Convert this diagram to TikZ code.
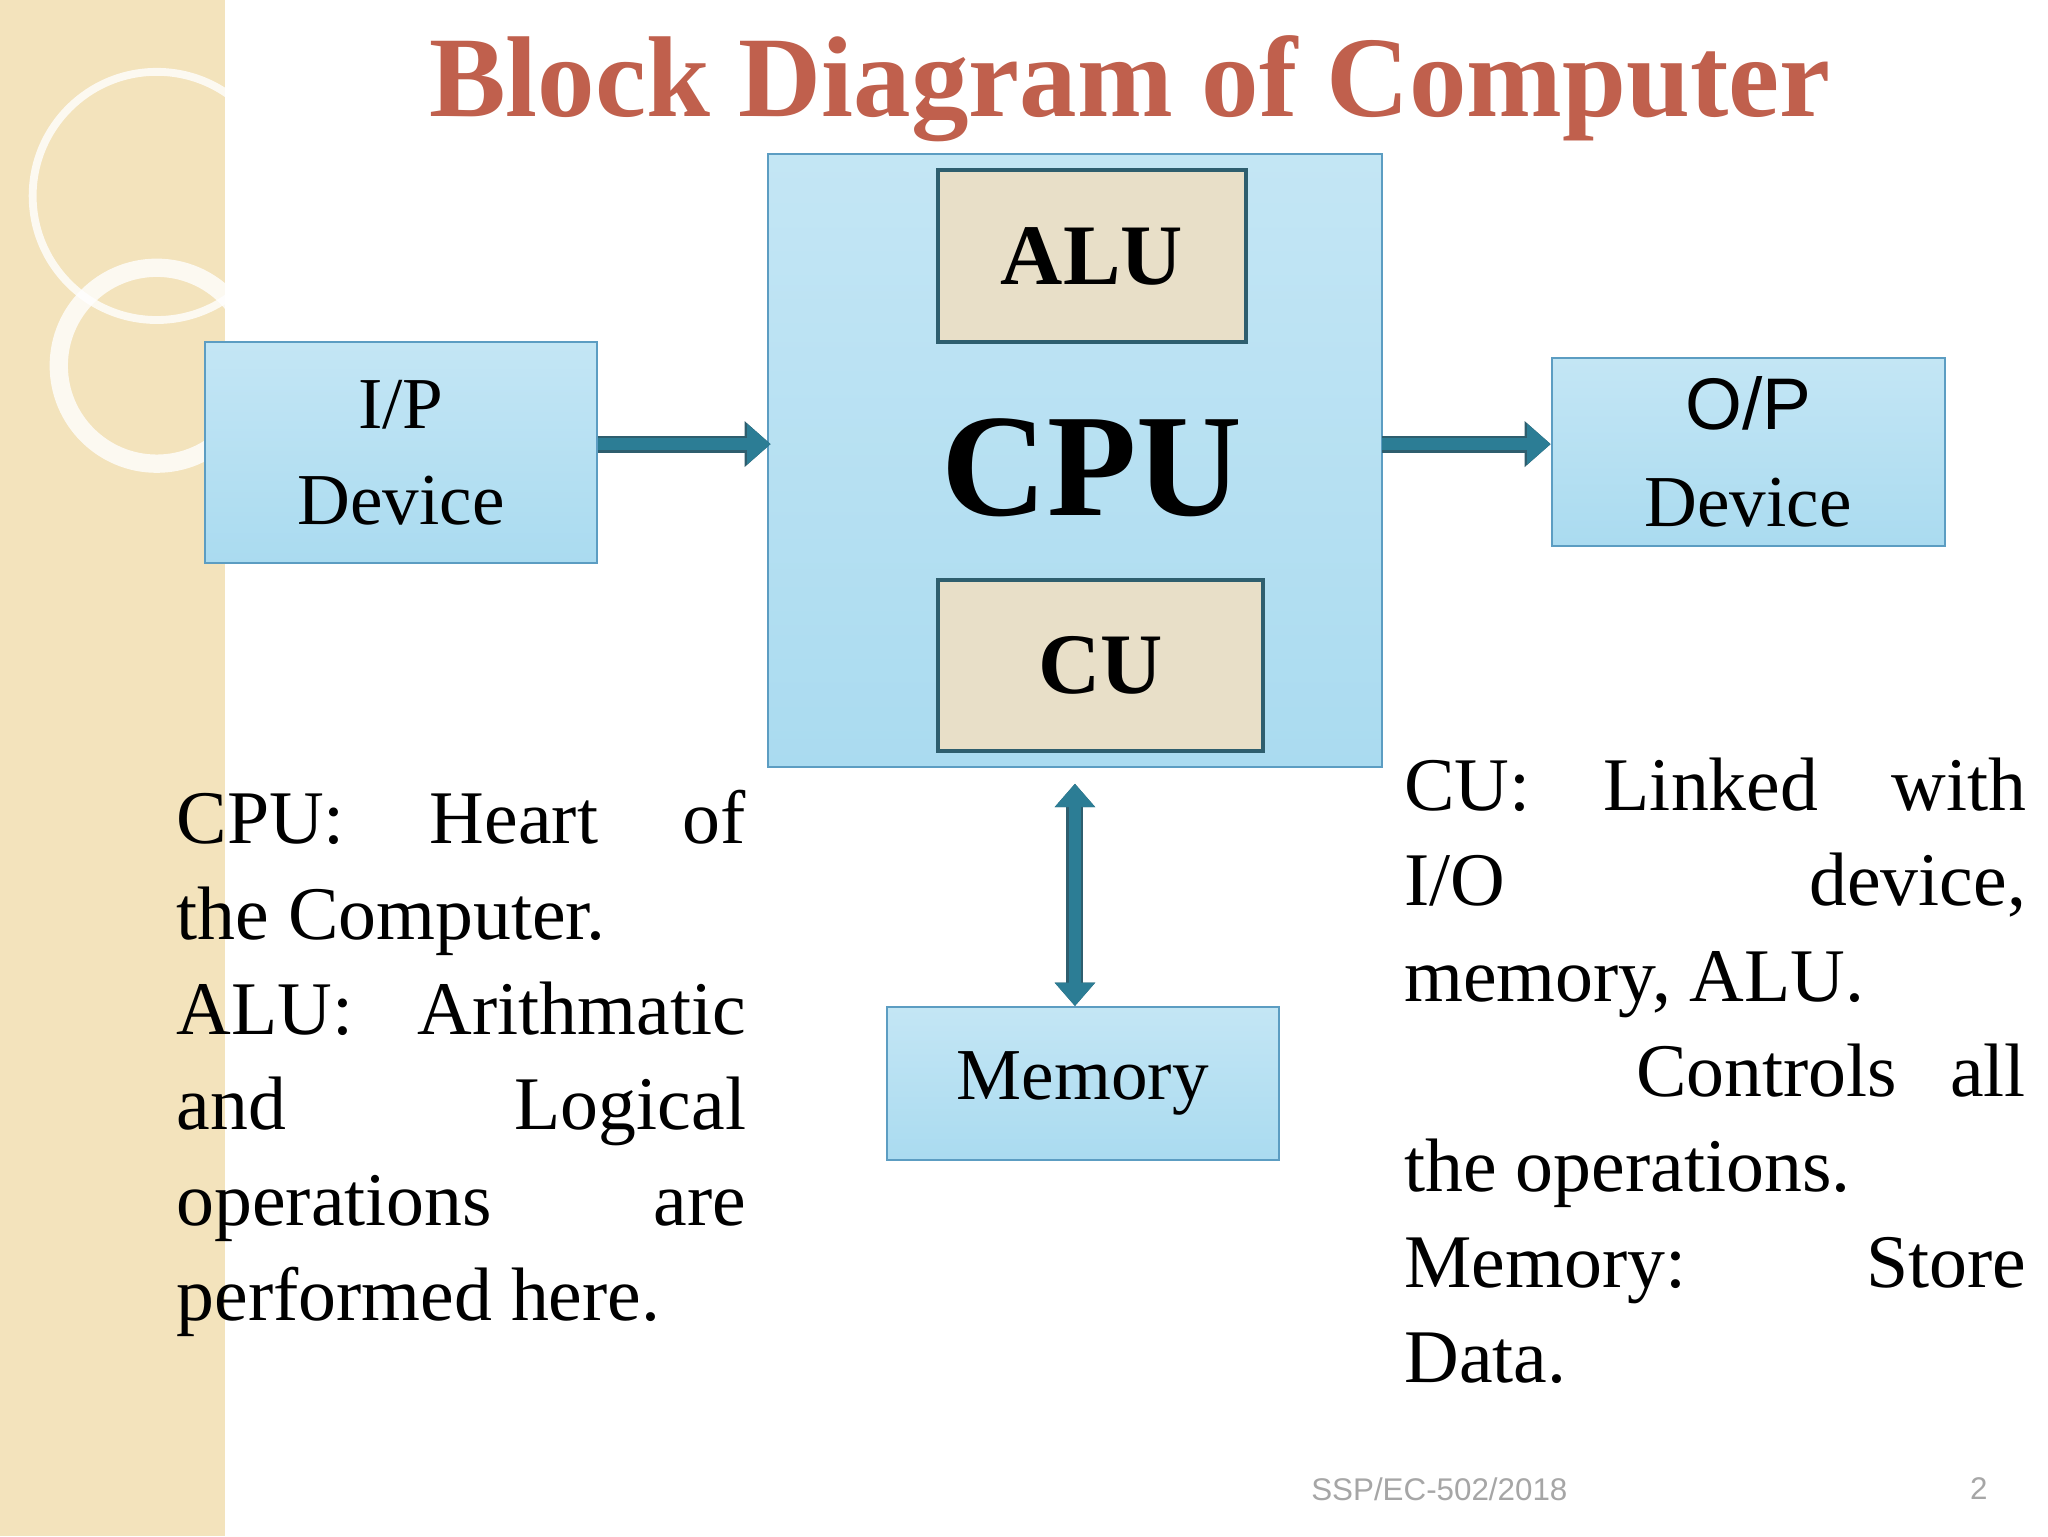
\documentclass[tikz,border=0pt]{standalone}
\usepackage{fontspec}
\setmainfont{Liberation Serif}
\newfontfamily\sans{Liberation Sans}
\usetikzlibrary{arrows.meta}
\definecolor{titc}{HTML}{C0604D}
\definecolor{boxf}{HTML}{AADBF0}
\definecolor{boxd}{HTML}{5C9DC2}
\definecolor{tanf}{HTML}{E8DFC8}
\definecolor{teal}{HTML}{2E5E6E}
\definecolor{arr}{HTML}{2C7D95}
\definecolor{strip}{HTML}{F3E3BC}
\tikzset{
 blk/.style={draw=boxd, line width=1.5pt, top color=boxf!70, bottom color=boxf, inner sep=0pt},
 tan/.style={draw=teal, line width=3pt, fill=tanf, inner sep=0pt},
 ar/.style={line width=9pt, color=arr, -{Triangle[length=18pt,width=30pt]}, preaction={draw=teal, line width=13pt, -{Triangle[length=20pt,width=34pt]}}},
 dar/.style={line width=9pt, color=arr, {Triangle[length=18pt,width=30pt]}-{Triangle[length=18pt,width=30pt]}},
 para/.style={anchor=north west, align=left, inner sep=0pt, font=\fontsize{58}{73}\selectfont}
}
\begin{document}
\begin{tikzpicture}[x=1pt,y=-1pt]
\useasboundingbox (0,0) rectangle (1568,1176);
\fill[white] (0,0) rectangle (1568,1176);
\fill[strip] (0,0) rectangle (172,1176);
\draw[white, line width=6pt, opacity=.8] (120,150) circle (95);
\draw[white, line width=14pt, opacity=.8] (120,280) circle (75);
\node[font=\bfseries\fontsize{88}{90}\selectfont, text=titc] (title) at (865,68) {Block Diagram of Computer};
\path[blk] (588,118) rectangle (1058,587);
\node (cpu) at (823,352) {};
\node[font=\bfseries\fontsize{112}{112}\selectfont] (cpulbl) at (836,358) {CPU};
\node[tan, minimum width=236pt, minimum height=132pt] (alu) at (836,196) {\fontsize{66}{66}\selectfont\bfseries ALU};
\node[tan, minimum width=249pt, minimum height=131pt] (cu) at (842.5,509.5) {\fontsize{66}{66}\selectfont\bfseries CU};
\node[blk, minimum width=300pt, minimum height=169pt, align=center, font=\fontsize{56}{74}\selectfont] (ip) at (307,346.5) {I/P\\Device};
\node[blk, minimum width=301pt, minimum height=144pt, align=center, font=\fontsize{56}{74}\selectfont] (op) at (1338.5,346) {{\sans O/P}\\Device};
\node[blk, minimum width=300pt, minimum height=117pt, font=\fontsize{56}{60}\selectfont] (mem) at (829,829.5) {Memory};
\coordinate (cpuL) at (590,340);
\coordinate (cpuR) at (1058,340);
\coordinate (cpuB) at (823,600);
\draw[ar] (ip.east |- cpuL) -- (cpuL);
\draw[ar] (cpuR) -- (op.west |- cpuR);
\draw[dar, preaction={draw=teal, line width=13pt}] (cpuB) -- (mem.north -| cpuB);
\node[para] (lt) at (135,605) {%
\makebox[436pt][s]{CPU: Heart of}\\
the Computer.\\
\makebox[436pt][s]{ALU: Arithmatic}\\
\makebox[436pt][s]{and\hfill Logical}\\
\makebox[436pt][s]{operations\hfill are}\\
performed here.};
\node[para] (rt) at (1075,580) {%
\makebox[476pt][s]{CU: Linked with}\\
\makebox[476pt][s]{I/O\hfill device,}\\
memory, ALU.\\
\makebox[476pt][s]{\hfill Controls\hspace{0.7em}all}\\
the operations.\\
\makebox[476pt][s]{Memory:\hfill Store}\\
Data.};
\node[font=\sans\fontsize{24}{24}\selectfont, text=gray!70] (ft) at (1102,1140) {SSP/EC-502/2018};
\node[font=\sans\fontsize{24}{24}\selectfont, text=gray!70] (pg) at (1515,1140) {2};
\end{tikzpicture}
\end{document}
